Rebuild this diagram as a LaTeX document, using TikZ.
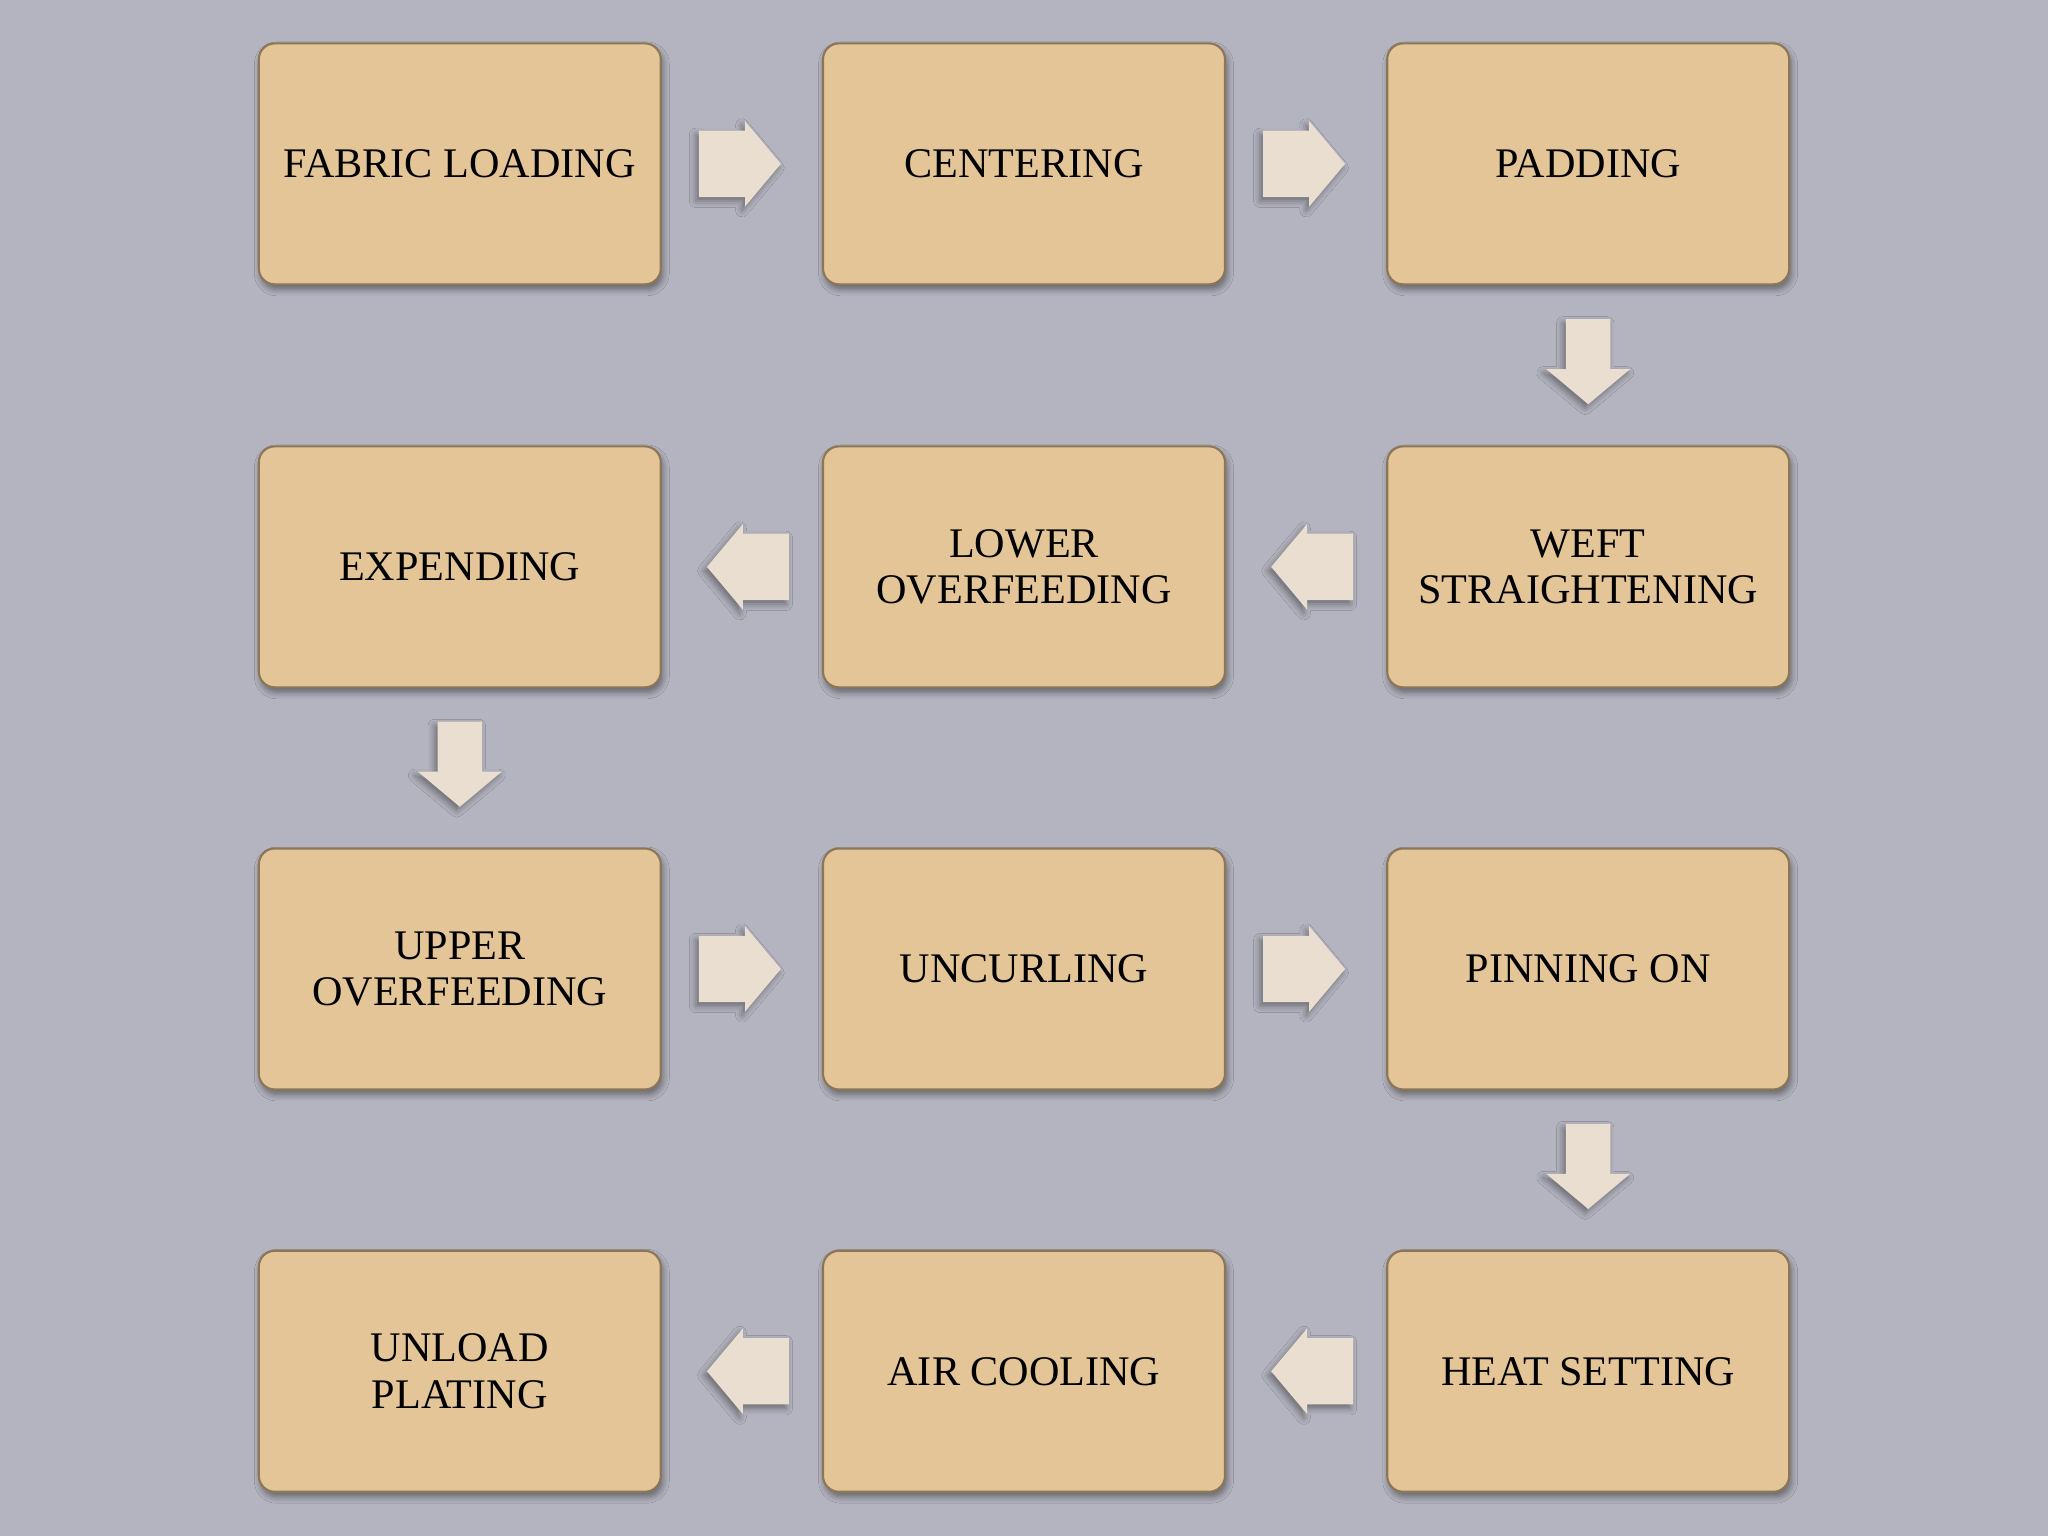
\documentclass[tikz,border=0pt]{standalone}
\usepackage{fontspec}
\setmainfont{Liberation Serif}
\usetikzlibrary{calc}
\usetikzlibrary{shapes.arrows}
\usetikzlibrary{shadows.blur}
\definecolor{bgcol}{RGB}{180,180,192}
\definecolor{tancol}{RGB}{228,197,152}
\definecolor{edgecol}{RGB}{140,118,88}
\definecolor{palecol}{RGB}{233,222,207}
\tikzset{
    stage/.style={draw=edgecol, fill=tancol, line width=0.6pt, rounded corners=0.16cm,
        minimum width=4.02cm, minimum height=2.41cm, align=center,
        font=\fontsize{12}{13.3}\selectfont,
        blur shadow={shadow xshift=0.2mm, shadow yshift=-0.5mm, shadow blur steps=6, shadow opacity=45}},
    blockarrow/.style={single arrow, fill=palecol, inner xsep=0.1cm, inner ysep=0.325cm,
        minimum height=0.82cm, minimum width=0.84cm,
        single arrow head extend=0.095cm, single arrow tip angle=100,
        blur shadow={shadow xshift=-0.3mm, shadow yshift=-0.4mm, shadow blur steps=4, shadow opacity=40}},
    toright/.style={blockarrow, shape border rotate=0, xshift=-0.16cm},
    toleft/.style={blockarrow, shape border rotate=180, xshift=0.2cm},
    todown/.style={blockarrow, shape border rotate=270, yshift=0.13cm}
}

\begin{document}
\begin{tikzpicture}
    \fill[bgcol](0, 0) rectangle (20.48, 15.36);
    \useasboundingbox (0, 0) rectangle (20.48, 15.36);
    % boxes, row by row
    \node[stage] (load) at (4.598, 13.721) {FABRIC LOADING};
    \node[stage] (centre) at (10.24, 13.721) {CENTERING};
    \node[stage] (pad) at (15.882, 13.721) {PADDING};
    \node[stage] (weft) at (15.882, 9.691) {WEFT\\STRAIGHTENING};
    \node[stage] (lower) at (10.24, 9.691) {LOWER\\OVERFEEDING};
    \node[stage] (expand) at (4.598, 9.691) {EXPENDING};
    \node[stage] (upper) at (4.598, 5.67) {UPPER\\OVERFEEDING};
    \node[stage] (uncurl) at (10.24, 5.67) {UNCURLING};
    \node[stage] (pin) at (15.882, 5.67) {PINNING ON};
    \node[stage] (heat) at (15.882, 1.647) {HEAT SETTING};
    \node[stage] (cool) at (10.24, 1.647) {AIR COOLING};
    \node[stage] (unload) at (4.598, 1.647) {UNLOAD\\PLATING};
    % block arrows between them
    \node[toright] (a1) at ($(load)!0.5!(centre)$) {};
    \node[toright] (a2) at ($(centre)!0.5!(pad)$) {};
    \node[todown] (a3) at ($(pad)!0.5!(weft)$) {};
    \node[toleft] (a4) at ($(weft)!0.5!(lower)$) {};
    \node[toleft] (a5) at ($(lower)!0.5!(expand)$) {};
    \node[todown] (a6) at ($(expand)!0.5!(upper)$) {};
    \node[toright] (a7) at ($(upper)!0.5!(uncurl)$) {};
    \node[toright] (a8) at ($(uncurl)!0.5!(pin)$) {};
    \node[todown] (a9) at ($(pin)!0.5!(heat)$) {};
    \node[toleft] (a10) at ($(heat)!0.5!(cool)$) {};
    \node[toleft] (a11) at ($(cool)!0.5!(unload)$) {};
\end{tikzpicture}
\end{document}
